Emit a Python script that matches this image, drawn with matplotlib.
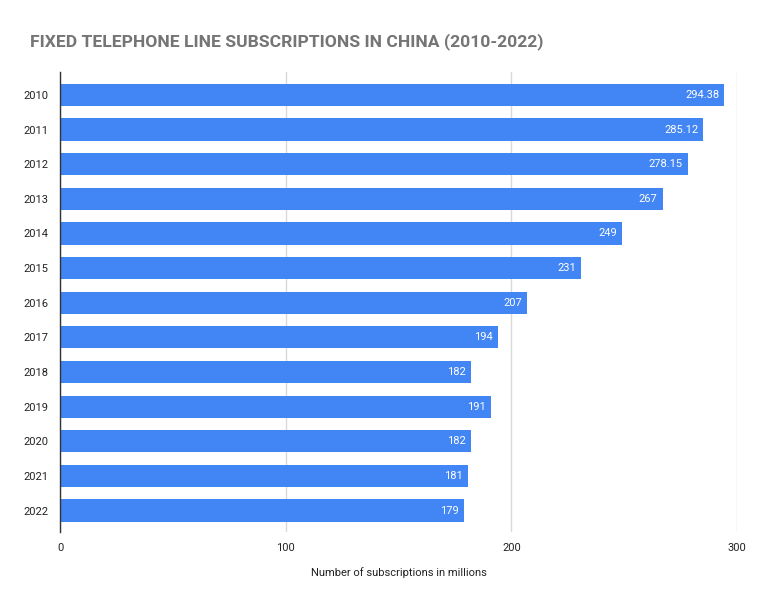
import matplotlib.pyplot as plt

years = ["2010", "2011", "2012", "2013", "2014", "2015", "2016",
         "2017", "2018", "2019", "2020", "2021", "2022"]
subscriptions = [294.38, 285.12, 278.15, 267, 249, 231, 207,
                 194, 182, 191, 182, 181, 179]
value_labels = ["294.38", "285.12", "278.15", "267", "249", "231", "207",
                "194", "182", "191", "182", "181", "179"]
x_ticks = [0, 100, 200, 300]

plt.rcParams["font.family"] = ["Roboto", "DejaVu Sans"]

fig = plt.figure(figsize=(7.68, 6.09), dpi=100)
ax = fig.add_axes([60 / 768, 1 - 532 / 609, 677 / 768, 460 / 609])

pos = list(range(len(years)))
ax.barh(pos, subscriptions, height=0.64, color="#4285F4", zorder=3)

for p, v, lab in zip(pos, subscriptions, value_labels):
    ax.text(v - 2.3, p, lab, color="white", fontsize=8,
            ha="right", va="center", zorder=4)

ax.set_xlim(0, 300)
ax.set_ylim(12.62, -0.66)
ax.set_yticks(pos)
ax.set_yticklabels(years)
ax.set_xticks(x_ticks)
ax.tick_params(length=0, labelsize=8, colors="#222222")
ax.tick_params(axis="x", pad=8)
ax.tick_params(axis="y", pad=8)

ax.grid(axis="x", color="#d9d9d9", linewidth=1, zorder=0)
for s in ["top", "right", "bottom"]:
    ax.spines[s].set_visible(False)
ax.spines["left"].set_color("#333333")
ax.spines["left"].set_linewidth(1)
ax.spines["left"].set_zorder(5)

ax.set_xlabel("Number of subscriptions in millions", fontsize=8,
              color="#222222", labelpad=10)

fig.text(30 / 768, 1 - 42 / 609, "FIXED TELEPHONE LINE SUBSCRIPTIONS IN CHINA (2010-2022)",
         fontsize=12.6, fontweight="bold", color="#757575", va="center", ha="left")

fig.savefig("out.png", dpi=100, facecolor="white")
